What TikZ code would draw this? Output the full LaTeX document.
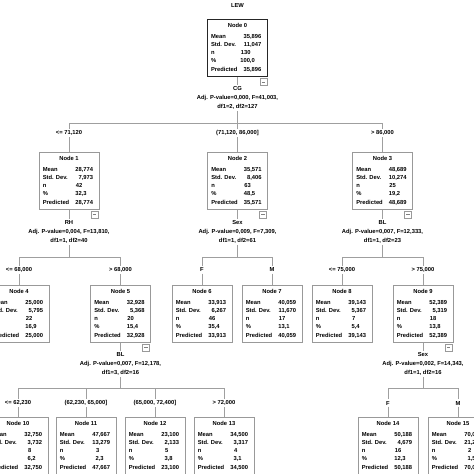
\documentclass[tikz,border=0pt]{standalone}
\usepackage{fontspec}
\setmainfont{Liberation Sans}
\newcommand\tf{\fontsize{5.8}{9}\selectfont\bfseries}
\def\dvx#1,#2,#3\relax{\llap{#1}\ifx\relax#2\relax\else,#2\fi}
\newcommand\dv[1]{\dvx#1,,\relax}
\tikzset{
  treebox/.style={draw=gray!80, line width=0.7pt, minimum width=60pt, minimum height=57pt, inner sep=0pt, anchor=north},
  rootbox/.style={treebox, draw=black!85, line width=1.4pt},
  txt/.style={inner sep=0pt, font=\tf},
  lbl/.style={txt, anchor=base west},
  conn/.style={draw=gray!75, line width=0.6pt},
  brlbl/.style={inner sep=1.5pt, font=\tf},
  splitlbl/.style={inner sep=1.5pt, font=\tf, align=center},
  minusbox/.style={draw=gray!80, line width=0.5pt, minimum size=7pt, inner sep=0pt, anchor=north east},
}
\newcommand\tnode[9][treebox]{%
  \node[#1] (#2) at (#3,#4) {};
  \node[txt, anchor=base] at ([yshift=-8pt]#2.north) {Node #5};
  \path (#2.north west) ++(4,19) node[lbl] {Mean} ++(39,0) node[lbl] {\dv{#6}};
  \path (#2.north west) ++(4,27.3) node[lbl] {Std. Dev.} ++(39,0) node[lbl] {\dv{#7}};
  \path (#2.north west) ++(4,35.6) node[lbl] {n} ++(39,0) node[lbl] {\dv{#8}};
  \path (#2.north west) ++(4,43.9) node[lbl] {\%} ++(39,0) node[lbl] {\dv{#9}};
  \path (#2.north west) ++(4,52.2) node[lbl] {Predicted} ++(39,0) node[lbl] {\dv{#6}};
}
\newcommand\minusmark[1]{%
  \node[minusbox] (#1m) at ([xshift=-1pt,yshift=-1pt]#1.south east) {\textcolor{gray}{\rule[0.4pt]{3.6pt}{0.6pt}}};
}
\begin{document}
\begin{tikzpicture}[x=1pt,y=-1pt]
\useasboundingbox (0,0) rectangle (474,474);
\clip (0,0) rectangle (474,474);
\fill[white] (0,0) rectangle (474,474);
% title
\node[txt] (title) at (237.5,5.5) {LEW};
% nodes
\tnode[rootbox]{n0}{237.5}{19}{0}{35,896}{11,047}{130}{100,0}
\tnode{n1}{69}{152}{1}{28,774}{7,973}{42}{32,3}
\tnode{n2}{237.5}{152}{2}{35,571}{8,406}{63}{48,5}
\tnode{n3}{382.5}{152}{3}{48,689}{10,274}{25}{19,2}
\tnode{n4}{19}{285}{4}{25,000}{5,795}{22}{16,9}
\tnode{n5}{120.5}{285}{5}{32,928}{5,368}{20}{15,4}
\tnode{n6}{202}{285}{6}{33,913}{6,267}{46}{35,4}
\tnode{n7}{272}{285}{7}{40,059}{11,670}{17}{13,1}
\tnode{n8}{342}{285}{8}{39,143}{5,367}{7}{5,4}
\tnode{n9}{423}{285}{9}{52,389}{5,319}{18}{13,8}
\tnode{n10}{18}{417}{10}{32,750}{3,732}{8}{6,2}
\tnode{n11}{86}{417}{11}{47,667}{13,279}{3}{2,3}
\tnode{n12}{155}{417}{12}{23,100}{2,133}{5}{3,8}
\tnode{n13}{224}{417}{13}{34,500}{3,317}{4}{3,1}
\tnode{n14}{388}{417}{14}{50,188}{4,679}{16}{12,3}
\tnode{n15}{458}{417}{15}{70,000}{21,213}{2}{1,5}
\minusmark{n0}\minusmark{n1}\minusmark{n2}\minusmark{n3}\minusmark{n5}\minusmark{n9}
% split labels
\node[splitlbl] (s0) at (237.5,98) {CG\\Adj. P-value=0,000, F=41,003,\\df1=2, df2=127};
\node[splitlbl] (s1) at (69,232) {RH\\Adj. P-value=0,004, F=13,810,\\df1=1, df2=40};
\node[splitlbl] (s2) at (237.5,232) {Sex\\Adj. P-value=0,009, F=7,309,\\df1=1, df2=61};
\node[splitlbl] (s3) at (382.5,232) {BL\\Adj. P-value=0,007, F=12,333,\\df1=1, df2=23};
\node[splitlbl] (s5) at (120.5,364) {BL\\Adj. P-value=0,007, F=12,178,\\df1=3, df2=16};
\node[splitlbl] (s9) at (423,364) {Sex\\Adj. P-value=0,002, F=14,343,\\df1=1, df2=16};
% branch labels
\node[brlbl] (b1) at (69,133) {<= 71,120};
\node[brlbl] (b2) at (237.5,133) {(71,120, 86,000]};
\node[brlbl] (b3) at (382.5,133) {> 86,000};
\node[brlbl] (b4) at (19,270) {<= 68,000};
\node[brlbl] (b5) at (120.5,270) {> 68,000};
\node[brlbl] (b6) at (202,270) {F};
\node[brlbl] (b7) at (272,270) {M};
\node[brlbl] (b8) at (342,270) {<= 75,000};
\node[brlbl] (b9) at (423,270) {> 75,000};
\node[brlbl] (b10) at (18,403) {<= 62,230};
\node[brlbl] (b11) at (86,403) {(62,230, 65,000]};
\node[brlbl] (b12) at (155,403) {(65,000, 72,400]};
\node[brlbl] (b13) at (224,403) {> 72,000};
\node[brlbl] (b14) at (388,403) {F};
\node[brlbl] (b15) at (458,403) {M};
% branching coordinates
\coordinate (h0) at (237.5,123);
\coordinate (h1) at (69,257);
\coordinate (h2) at (237.5,257);
\coordinate (h3) at (382.5,257);
\coordinate (h5) at (120.5,388);
\coordinate (h9) at (423,388);
% connectors from parents
\foreach \p in {0,1,2,3,5,9}{
  \draw[conn] (n\p.south) -- (s\p.north);
  \draw[conn] (s\p.south) -- (h\p);
}
% horizontal bars
\draw[conn] (h0 -| n1) -- (h0 -| n3);
\draw[conn] (h1 -| n4) -- (h1 -| n5);
\draw[conn] (h2 -| n6) -- (h2 -| n7);
\draw[conn] (h3 -| n8) -- (h3 -| n9);
\draw[conn] (h5 -| n10) -- (h5 -| n13);
\draw[conn] (h9 -| n14) -- (h9 -| n15);
% drops to children
\foreach \c/\h in {1/h0,2/h0,3/h0,4/h1,5/h1,6/h2,7/h2,8/h3,9/h3,10/h5,11/h5,12/h5,13/h5,14/h9,15/h9}{
  \draw[conn] (\h -| n\c) -- (b\c.north);
  \draw[conn] (b\c.south) -- (n\c.north);
}
\end{tikzpicture}
\end{document}
